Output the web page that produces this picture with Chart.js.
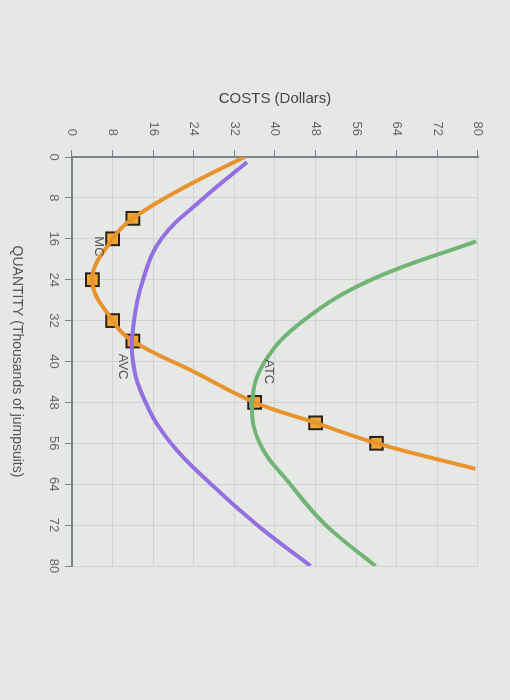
<!DOCTYPE html>
<html><head><meta charset="utf-8">
<script src="https://cdn.jsdelivr.net/npm/chart.js@4"></script>
<style>
html,body{margin:0;padding:0;background:#e6e8e5;width:510px;height:700px;overflow:hidden;}
#wrap{position:absolute;left:0;top:0;width:700px;height:510px;transform-origin:0 0;transform:translateX(510px) rotate(90deg);}
</style></head><body>
<div id="wrap"><canvas id="c" width="700" height="510"></canvas></div>
<script>
const quantityTicks=[0,8,16,24,32,40,48,56,64,72,80];
const mcQty=[0,6,12,16,24,32,36,42,48,52,56,61];
const mcCost=[34,22,12,8,4,8,12,24,36,48,60,79.5];
const mcPointQty=[12,16,24,32,36,48,52,56];
const mcPointCost=[12,8,4,8,12,36,48,60];
const avcQty=[1,8,16,24,32,40,48,56,64,72,80];
const avcCost=[34.5,26,17.6,14,12.2,12,14.5,19.5,27.4,36.5,47];
const atcQty=[16.5,24,32,40,48,56,64,72,80];
const atcCost=[79.6,59,45.6,38,35.5,37,43,50,59.8];
const curveLabels=[{t:'MC',q:17.5,c:5.2},{t:'AVC',q:41,c:10},{t:'ATC',q:42,c:38.8}];

const pts=(xs,ys)=>xs.map((x,i)=>({x:x,y:ys[i]}));
const line=(d,col)=>({data:d,borderColor:col,borderWidth:4,showLine:true,pointRadius:0,tension:0.4,fill:false});
const labelPlugin={id:'lbl',afterDatasetsDraw(ch){const x=ch.scales.x,y=ch.scales.y,ctx=ch.ctx;ctx.save();ctx.font='13px "Liberation Sans", Arial';ctx.fillStyle='#555';ctx.textAlign='center';ctx.textBaseline='middle';
curveLabels.forEach(l=>ctx.fillText(l.t,x.getPixelForValue(l.q),y.getPixelForValue(l.c)));ctx.restore();}};
new Chart(document.getElementById('c'),{type:'scatter',
data:{datasets:[
line(pts(avcQty,avcCost),'#9370e0'),
line(pts(atcQty,atcCost),'#72b377'),
line(pts(mcQty,mcCost),'#e8942e'),
{data:pts(mcPointQty,mcPointCost),pointStyle:'rect',pointRadius:9,pointHoverRadius:9,backgroundColor:'#f0a632',borderColor:'#2a2118',borderWidth:2,showLine:false}
]},
options:{responsive:false,animation:false,events:[],
layout:{padding:{left:86,top:32,right:134,bottom:4}},
plugins:{legend:{display:false},tooltip:{enabled:false}},
scales:{
x:{type:'linear',min:0,max:80,afterBuildTicks(a){a.ticks=quantityTicks.map(v=>({value:v}));},afterFit(a){a.height=68;},
 grid:{color:'#cfd3d8',tickColor:'#7a828c',tickLength:7},border:{color:'#7a828c',width:2},
 ticks:{color:'#666',font:{size:13,family:'"Liberation Sans", Arial'},maxRotation:0,padding:4},
 title:{display:true,text:'QUANTITY (Thousands of jumpsuits)',color:'#555',font:{size:14,family:'"Liberation Sans", Arial'}}},
y:{type:'linear',min:0,max:80,afterBuildTicks(a){a.ticks=quantityTicks.map(v=>({value:v}));},afterFit(a){a.width=71;},
 grid:{color:'#cfd3d8',tickColor:'#7a828c',tickLength:7},border:{color:'#7a828c',width:2},
 ticks:{color:'#666',font:{size:13,family:'"Liberation Sans", Arial'},padding:14},
 title:{display:true,text:'COSTS (Dollars)',color:'#444',font:{size:15,family:'"Liberation Sans", Arial'}}}
}},plugins:[labelPlugin]});
</script></body></html>
